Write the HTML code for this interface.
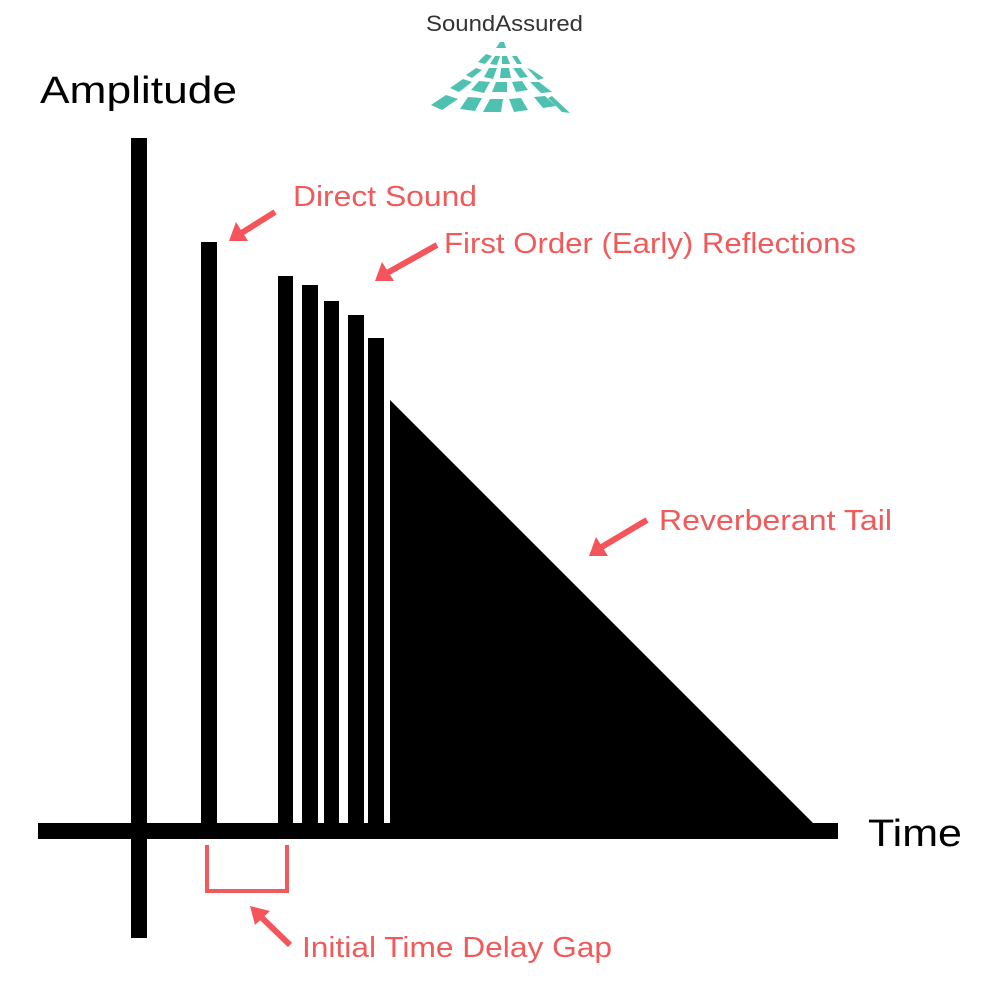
<!DOCTYPE html>
<html><head><style>body{margin:0;background:#fff}svg{display:block}</style></head>
<body>
<svg width="1000" height="1000" viewBox="0 0 1000 1000" xmlns="http://www.w3.org/2000/svg">
<rect width="1000" height="1000" fill="#fff"/>
<!-- logo -->
<text x="426" y="31" font-family="Liberation Sans, sans-serif" font-size="22" fill="#333" textLength="157" lengthAdjust="spacingAndGlyphs">SoundAssured</text>
<g fill="#4fc1b0">
<polygon points="496,48 500,42 504,42 506,48"/>
<polygon points="478,62 486,54 492,56 485,64"/>
<polygon points="490,64 495,56 500,56 497,65"/>
<polygon points="502,64 502,56 507,56 510,64"/>
<polygon points="512,56 517,56 522,64 517,64"/>
<polygon points="466,75 476,68 482,70 472,78"/>
<polygon points="484,77 489,68 497,68 493,79"/>
<polygon points="500,78 501,68 509,68 511,78"/>
<polygon points="513,68 521,68 528,77 520,78"/>
<polygon points="527,68 532,70 544,78 538,80"/>
<polygon points="450,88 463,79 472,82 459,92"/>
<polygon points="471,90 479,81 490,82 484,93"/>
<polygon points="492,92 496,82 507,82 507,92"/>
<polygon points="512,82 522,81 528,90 516,92"/>
<polygon points="530,82 539,82 552,92 541,93"/>
<polygon points="431,105 446,95 458,99 442,110"/>
<polygon points="460,109 468,97 482,98 475,111"/>
<polygon points="483,112 490,99 503,99 501,112"/>
<polygon points="509,99 521,98 528,110 514,112"/>
<polygon points="534,97 545,96 556,106 543,108"/>
<polygon points="552,96 570,113 562,112 548,98"/>
</g>
<!-- axes -->
<rect x="131" y="138" width="16" height="800" fill="#000"/>
<rect x="38" y="823" width="800" height="16" fill="#000"/>
<!-- bars -->
<rect x="201" y="242" width="16" height="590" fill="#000"/>
<rect x="278" y="276" width="15" height="556" fill="#000"/>
<rect x="302" y="285" width="16" height="547" fill="#000"/>
<rect x="324" y="301" width="15" height="531" fill="#000"/>
<rect x="348" y="315" width="16" height="517" fill="#000"/>
<rect x="368" y="338" width="16" height="494" fill="#000"/>
<polygon points="390,400 815,825 390,825" fill="#000"/>
<!-- bracket -->
<polyline points="207,845 207,891 287,891 287,845" fill="none" stroke="#f05a5a" stroke-width="4"/>
<!-- arrows -->
<g stroke="#f4545a" stroke-width="6" fill="#f4545a">
<line x1="275" y1="212" x2="240" y2="234"/>
<line x1="437" y1="245" x2="387" y2="273"/>
<line x1="647" y1="520" x2="600" y2="548"/>
<line x1="290" y1="945" x2="260" y2="916"/>
</g>
<g fill="#f4545a">
<polygon points="229,241 236,222 248,241"/>
<polygon points="375,281 382,262 394,281"/>
<polygon points="589,556 596,537 608,556"/>
<polygon points="250,906 270,911 255,925"/>
</g>
<!-- labels -->
<g font-family="Liberation Sans, sans-serif" fill="#f05a5a" font-size="29">
<text x="293" y="206" textLength="184" lengthAdjust="spacingAndGlyphs">Direct Sound</text>
<text x="444" y="253" textLength="412" lengthAdjust="spacingAndGlyphs">First Order (Early) Reflections</text>
<text x="659" y="530" textLength="233" lengthAdjust="spacingAndGlyphs">Reverberant Tail</text>
<text x="302" y="957" textLength="310" lengthAdjust="spacingAndGlyphs">Initial Time Delay Gap</text>
</g>
<g font-family="Liberation Sans, sans-serif" fill="#000" font-size="38">
<text x="40" y="103" textLength="197" lengthAdjust="spacingAndGlyphs">Amplitude</text>
<text x="868" y="846" textLength="94" lengthAdjust="spacingAndGlyphs">Time</text>
</g>
</svg>
</body></html>
